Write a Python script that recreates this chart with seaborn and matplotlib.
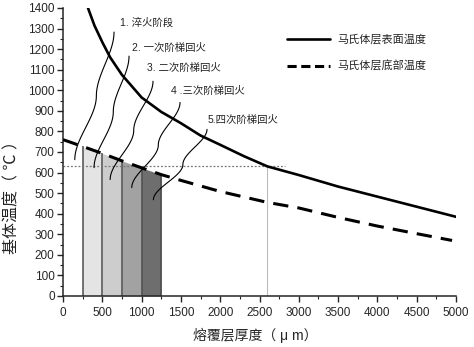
import numpy as np
import pandas as pd
import seaborn as sns
import matplotlib
matplotlib.use("Agg")
import matplotlib.pyplot as plt
from matplotlib.lines import Line2D

# ---- data ----
surf_x = [318, 400, 500, 600, 750, 1000, 1250, 1500, 1750, 2000, 2300, 2600, 3000, 3500, 4000, 4500, 5000]
surf_t = [1400, 1315, 1234, 1160, 1075, 965, 895, 840, 780, 735, 680, 630, 588, 532, 483, 434, 385]

bot_x = [0, 250, 500, 750, 1000, 1250, 1500, 2000, 2600, 3000, 3500, 4000, 4500, 4950]
bot_t = [760, 727, 693, 657, 623, 590, 562, 508, 455, 428, 382, 340, 303, 270]

stage_bounds = [250, 500, 750, 1000, 1250]
stage_colors = ["#e4e4e4", "#cdcdcd", "#a2a2a2", "#6e6e6e"]

ref_temp = 630
ref_thick = 2600
ref_line_end = 2825

labels = ["1. 淬火阶段", "2. 一次阶梯回火", "3. 二次阶梯回火", "4 .三次阶梯回火", "5.四次阶梯回火"]
label_x = [725, 878, 1070, 1374, 1845]
label_t = [1327, 1205, 1107, 995, 854]
lead_start_x = [649, 840, 1145, 1489, 1832]
lead_start_t = [1283, 1166, 1044, 941, 810]
lead_end_x = [150, 395, 600, 875, 1150]
lead_end_t = [663, 624, 566, 527, 468]

legend_labels = ["马氏体层表面温度", "马氏体层底部温度"]
xlabel = "熔覆层厚度（ μ m）"
ylabel = "基体温度（ ℃ ）"

# ---- style ----
sns.set_style("ticks")
plt.rcParams["font.family"] = ["Liberation Sans", "Noto Sans CJK SC", "DejaVu Sans"]
plt.rcParams["axes.unicode_minus"] = False

fig = plt.figure(figsize=(4.74, 3.47), dpi=100)
W, H = 474, 347
ax = fig.add_axes([63 / W, 1 - 296 / H, (456 - 63) / W, (296 - 8) / H])

bx = np.array(bot_x, dtype=float)
bt = np.array(bot_t, dtype=float)

# stage fills under the bottom-temperature curve
for i in range(len(stage_bounds) - 1):
    a, b = stage_bounds[i], stage_bounds[i + 1]
    m = (bx >= a) & (bx <= b)
    ax.fill_between(bx[m], 0, bt[m], color=stage_colors[i], lw=0, zorder=1)
for xb in stage_bounds:
    ax.vlines(xb, 0, bt[bx == xb][0], color="#4d4d4d", lw=1.1, zorder=2)

# reference lines
ax.hlines(ref_temp, 0, ref_line_end, color="#777777", lw=0.9, ls=(0, (1.5, 1.5)), zorder=2)
ax.vlines(ref_thick, 0, ref_temp, color="#bbbbbb", lw=0.8, zorder=2)

df_s = pd.DataFrame({"x": surf_x, "t": surf_t})
df_b = pd.DataFrame({"x": bot_x, "t": bot_t})
sns.lineplot(data=df_s, x="x", y="t", ax=ax, color="black", lw=1.9, estimator=None, sort=False, zorder=4)
sns.lineplot(data=df_b, x="x", y="t", ax=ax, color="black", lw=2.2, estimator=None, sort=False, zorder=4)
ax.lines[-1].set_dashes((5.0, 3.0))

# leader lines (brace-like S curves)
def smooth(u):
    return u * u * (3 - 2 * u)

for i in range(len(labels)):
    xs, ys, xe, ye = lead_start_x[i], lead_start_t[i], lead_end_x[i], lead_end_t[i]
    xm = xs + 0.45 * (xe - xs)
    ym = ys + 0.5 * (ye - ys)
    u = np.linspace(0, 1, 60)
    x1 = xs + (xm - xs) * smooth(u)
    y1 = ys + (ym - ys) * u
    x2 = xm + (xe - xm) * smooth(u)
    y2 = ym + (ye - ym) * u
    ax.plot(np.r_[x1, x2], np.r_[y1, y2], color="black", lw=0.8, zorder=3)
    ax.text(label_x[i], label_t[i], labels[i], fontsize=7.5, ha="left", va="center", color="#222222", zorder=5)

ax.set_xlim(0, 5000)
ax.set_ylim(0, 1400)
ax.set_xticks(np.arange(0, 5001, 500))
ax.set_yticks(np.arange(0, 1401, 100))
ax.set_xticks(np.arange(0, 5001, 250), minor=True)
ax.set_yticks(np.arange(0, 1401, 50), minor=True)
ax.tick_params(which="major", direction="out", length=4, width=1, labelsize=8.5, pad=2)
ax.tick_params(axis="x", which="major", pad=4)
ax.tick_params(which="minor", direction="out", length=2.5, width=0.8)
for s in ["top", "right"]:
    ax.spines[s].set_visible(False)
for s in ["left", "bottom"]:
    ax.spines[s].set_linewidth(1.1)

ax.set_xlabel(xlabel, fontsize=10)
ax.set_ylabel(ylabel, fontsize=11.5, color="#222222")
ax.xaxis.set_label_coords((255 - 63) / 393, (296 - 335) / 288)
ax.yaxis.set_label_coords((12 - 63) / 393, (296 - 193) / 288)
ax.xaxis.label.set_va("center")
ax.yaxis.label.set_va("center")

handles = [Line2D([], [], color="black", lw=1.9),
           Line2D([], [], color="black", lw=2.2, dashes=(3.0, 1.5))]
ax.legend(handles, legend_labels, loc="upper left", bbox_to_anchor=(287 / W, 1 - 34 / H),
          bbox_transform=fig.transFigure, frameon=False, fontsize=8, handlelength=3.9,
          handletextpad=0.6, labelspacing=1.4, borderpad=0, borderaxespad=0)

fig.savefig("out.png", dpi=100)
